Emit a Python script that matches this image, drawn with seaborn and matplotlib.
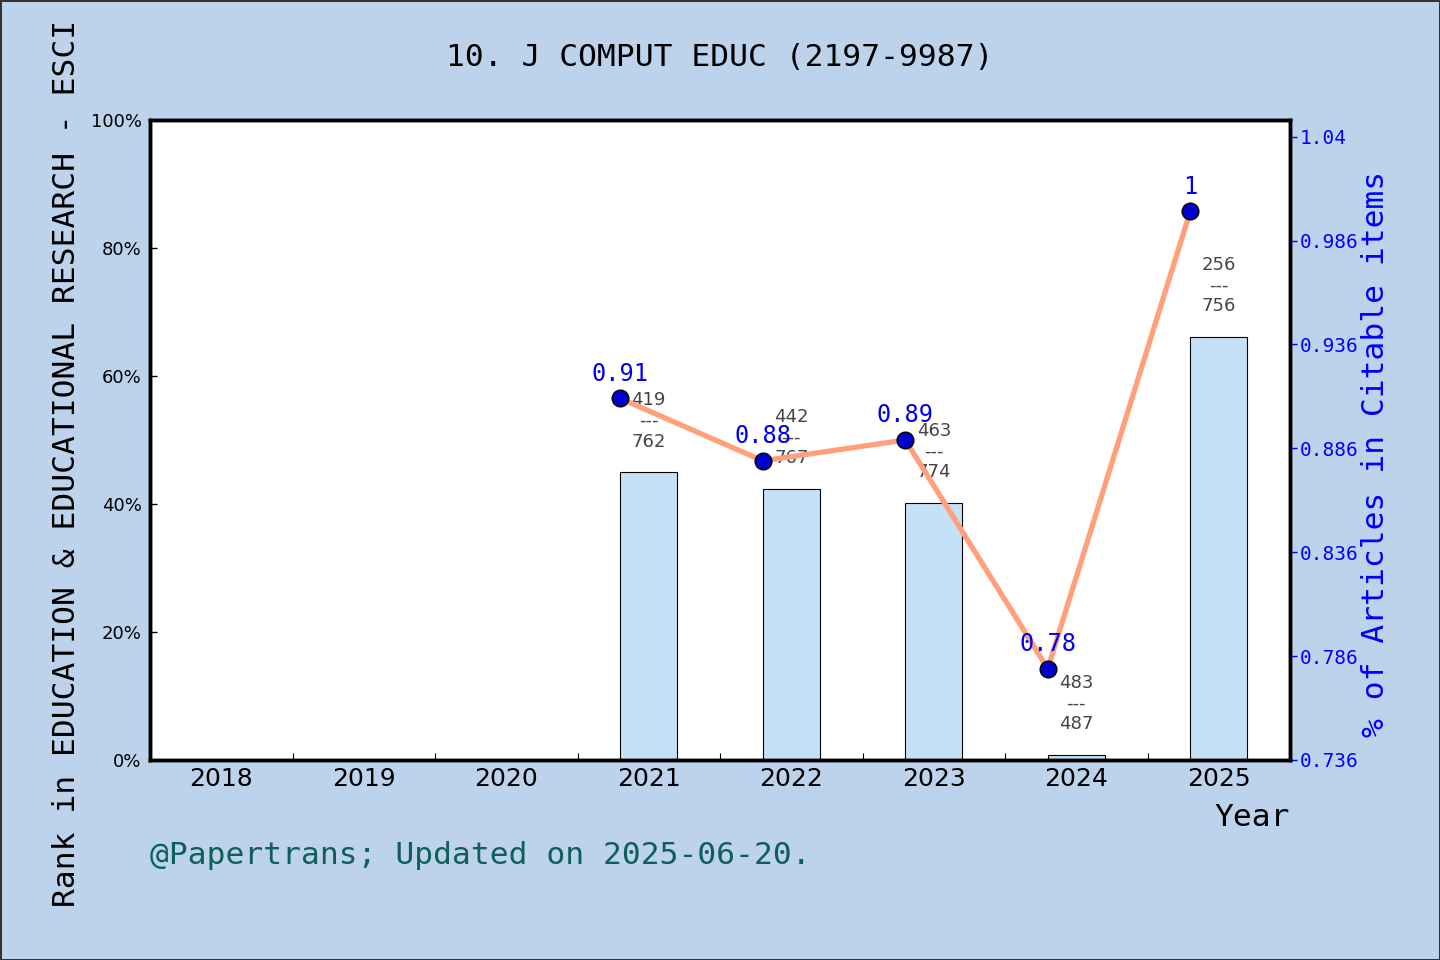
import numpy as np
import pandas as pd
import seaborn as sns
import matplotlib.pyplot as plt
from matplotlib.ticker import PercentFormatter, FixedLocator, FuncFormatter

# dados do gráfico
years = ['2018', '2019', '2020', '2021', '2022', '2023', '2024', '2025']
rank_pos = [np.nan, np.nan, np.nan, 419, 442, 463, 483, 256]
rank_total = [np.nan, np.nan, np.nan, 762, 767, 774, 487, 756]
citable = [np.nan, np.nan, np.nan, 0.91, 0.88, 0.89, 0.78, 1.0]
citable_labels = ['', '', '', '0.91', '0.88', '0.89', '0.78', '1']

bg = '#BDD3EC'
mono = 'DejaVu Sans Mono'

df = pd.DataFrame({'year': years, 'pos': rank_pos, 'total': rank_total, 'cit': citable})
df['rank'] = 1 - df['pos'] / df['total']
df['x'] = np.arange(len(years)) - 0.2

sns.set_style('white')
plt.rcParams.update({'text.color': 'black', 'axes.labelcolor': 'black',
                     'xtick.color': 'black', 'ytick.color': 'black'})
fig = plt.figure(figsize=(14.4, 9.6), dpi=100, facecolor=bg, edgecolor='#333333', linewidth=2)
ax = fig.add_axes([150 / 1440, 1 - 760 / 960, 1140 / 1440, 640 / 960])
ax.set_facecolor('white')

sns.barplot(data=df, x='year', y='rank', order=years, color='#C5E1F7', saturation=1,
            edgecolor='black', linewidth=0.8, width=0.4, ax=ax)
ax.set_xlim(-0.5, 7.5)
ax.set_ylim(0, 1)
ax.set_xlabel('')
ax.set_ylabel('')
ax.yaxis.set_major_formatter(PercentFormatter(1.0, decimals=0))
ax.set_yticks([0, 0.2, 0.4, 0.6, 0.8, 1.0])
ax.tick_params(axis='y', direction='in', length=5, width=1, labelsize=13, pad=6)
ax.tick_params(axis='x', which='major', length=0, labelsize=18, pad=5)
ax.xaxis.set_minor_locator(FixedLocator(np.arange(0.5, 7.5, 1)))
ax.tick_params(axis='x', which='minor', direction='in', length=5, width=0.8, bottom=True)
for lab in ax.get_yticklabels():
    lab.set_family(['Liberation Sans Narrow', 'DejaVu Sans'])
for sp in ax.spines.values():
    sp.set_visible(True)
    sp.set_linewidth(2.5)
    sp.set_color('black')

# rótulos de rank
for i, r in df.iterrows():
    if np.isnan(r['rank']):
        continue
    ax.text(i, r['rank'] + 0.08, f"{int(r['pos'])}\n---\n{int(r['total'])}",
            ha='center', va='center', fontsize=13, color='#444444', linespacing=1.2)

# eixo da direita
ax2 = ax.twinx()
sns.lineplot(data=df.dropna(), x='x', y='cit', color='#FFA07A', linewidth=3.8,
             marker='o', markersize=12, markerfacecolor='#0000CC', markeredgecolor='black',
             markeredgewidth=1, ax=ax2)
ax2.set_ylim(0.736, 1.044)
ax2.yaxis.set_major_locator(FixedLocator([0.736 + 0.05 * k for k in range(7)]))
ax2.yaxis.set_major_formatter(FuncFormatter(lambda v, p: f'{v:.3g}'))
ax2.tick_params(axis='y', direction='out', length=5, width=1, colors='blue', labelsize=14, pad=2)
for lab in ax2.get_yticklabels():
    lab.set_family(mono)
ax2.set_xlabel('')
ax2.set_ylabel('')
ax2.set_xlim(-0.5, 7.5)
for sp in ax2.spines.values():
    sp.set_linewidth(2.5)
    sp.set_color('black')

for i, r in df.iterrows():
    if np.isnan(r['cit']):
        continue
    ax2.annotate(citable_labels[i], (r['x'], r['cit']), xytext=(0, 9), textcoords='offset points',
                 ha='center', va='bottom', fontsize=17, color='#0000EE', family=mono)

fig.text(0.5, 1 - 57 / 960, '10. J COMPUT EDUC (2197-9987)', ha='center', va='center',
         fontsize=22.5, family=mono)
fig.text(67 / 1440, 1 - 463 / 960, 'Rank in EDUCATION & EDUCATIONAL RESEARCH - ESCI',
         rotation=90, ha='center', va='center', fontsize=22.5, family=mono)
fig.text(1375 / 1440, 1 - 454 / 960, '% of Articles in Citable items', rotation=90,
         ha='center', va='center', fontsize=22.5, family=mono, color='blue')
fig.text(1290 / 1440, 1 - 817 / 960, 'Year', ha='right', va='center', fontsize=22.5, family=mono)
fig.text(150 / 1440, 1 - 855 / 960, '@Papertrans; Updated on 2025-06-20.', ha='left', va='center',
         fontsize=22.5, family=mono, color='#0E5E5A')

plt.savefig('out.png', dpi=100, facecolor=bg, edgecolor='#333333')
